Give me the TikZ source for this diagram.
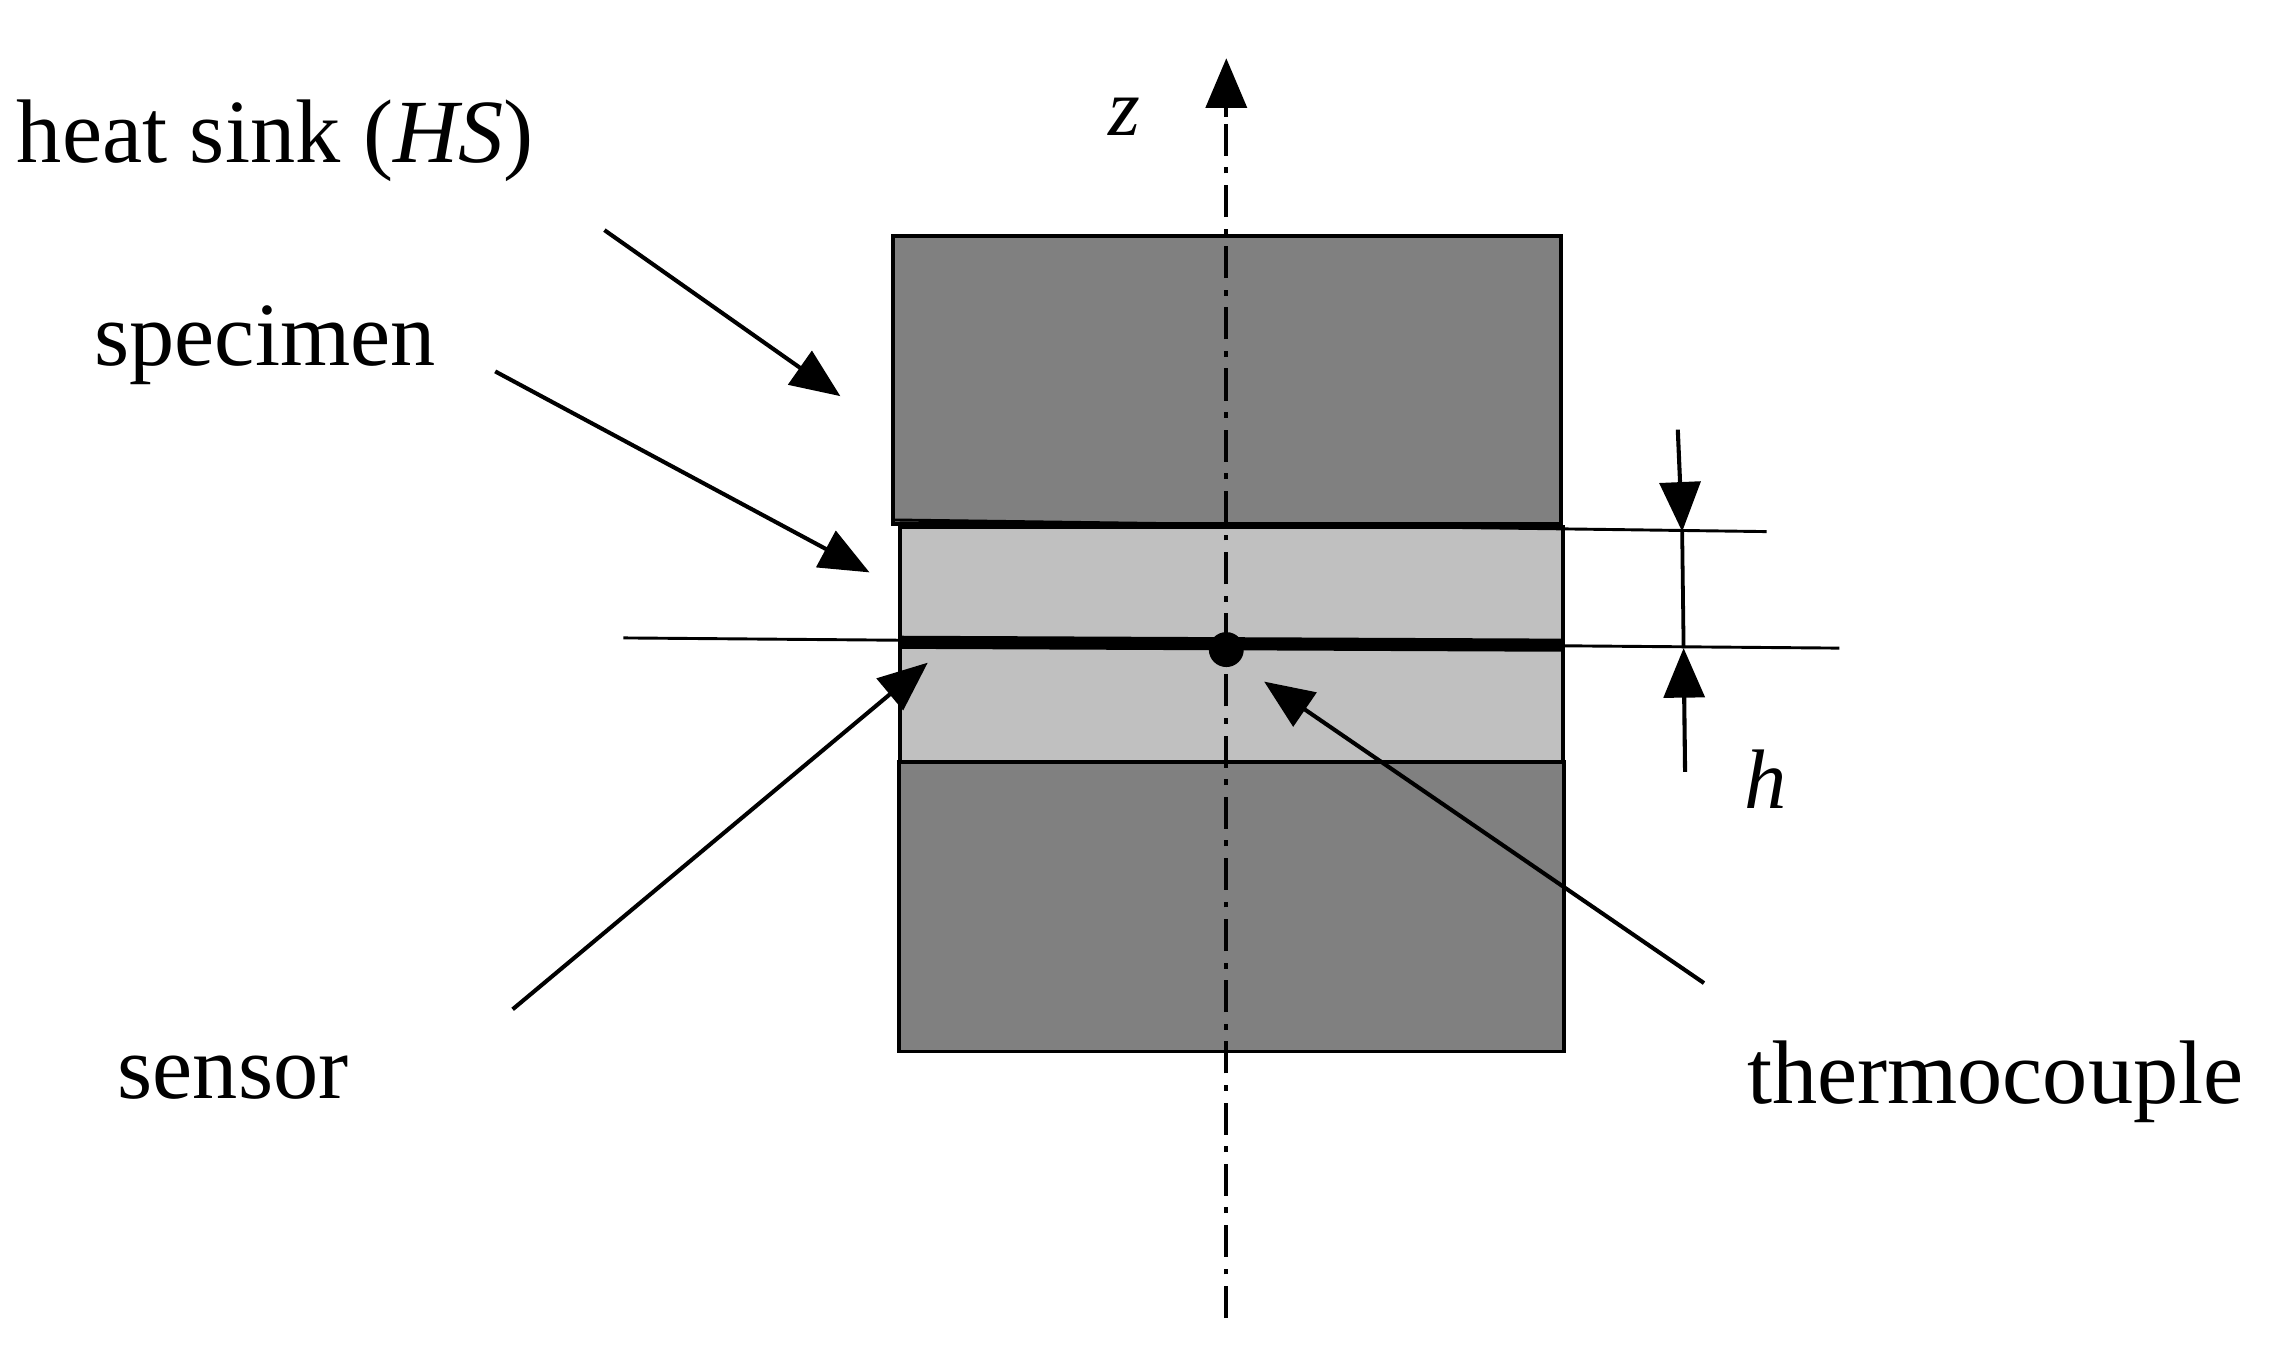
\documentclass[tikz,border=0pt]{standalone}
\usepackage{fontspec}
\setmainfont{Liberation Serif}
\usetikzlibrary{arrows.meta}
\begin{document}
\begin{tikzpicture}[x=1pt,y=-1pt,
  lbl/.style={font=\fontsize{62}{66}\selectfont,inner sep=0},
  arr/.style={line width=2.8pt,-{Triangle[length=34pt,width=28pt]}},
  thin/.style={line width=2pt},
  box/.style={draw,line width=2.6pt}]
\useasboundingbox (0,0) rectangle (1560,924);
\fill[white] (0,0) rectangle (1560,924);
\draw[box,fill={rgb,255:red,128;green,128;blue,128}] (613,162) rectangle (1072,360);
\draw[box,fill={rgb,255:red,192;green,192;blue,192}] (618,362) rectangle (1073,523);
\draw[box,fill={rgb,255:red,128;green,128;blue,128}] (617,523) rectangle (1074,722);
\draw[line width=9pt] (618,441) -- (1073,443);
\draw[thin] (428,438) -- (1263,445);
\draw[thin] (613,357) -- (1213,365);
\coordinate (top) at (842,40);
\coordinate (bot) at (842,905);
\draw[line width=2.6pt,dash pattern=on 22pt off 8pt on 4pt off 8pt] (bot) -- (842,75);
\draw[arr] (842,80) -- (top);
\node[lbl,font=\fontsize{56}{60}\selectfont\itshape] (z) at (772,80) {z};
\fill (842,446) circle (12);
\node (dot) at (842,446) {};
% dimension
\coordinate (d1) at (1152,295);
\coordinate (d2) at (1155,365);
\coordinate (d3) at (1157,530);
\coordinate (d4) at (1156,445);
\draw[line width=2.6pt] (d2) -- (d4);
\draw[arr] (d1) -- (d2);
\draw[arr] (d3) -- (d4);
\node[lbl,font=\fontsize{58}{60}\selectfont\itshape] (h) at (1212,535) {h};
% labels
\node[lbl] (hs) at (189,97) {heat sink (\textit{HS})};
\node[lbl] (sp) at (182,237) {specimen};
\node[lbl] (se) at (160,740) {sensor};
\node[lbl] (tc) at (1370,743) {thermocouple};
\coordinate (a1) at (415,158); \coordinate (b1) at (577,272);
\coordinate (a2) at (340,255); \coordinate (b2) at (597,393);
\coordinate (a3) at (352,693); \coordinate (b3) at (637,455);
\coordinate (a4) at (1170,675); \coordinate (b4) at (868,468);
\draw[arr] (a1) -- (b1);
\draw[arr] (a2) -- (b2);
\draw[arr] (a3) -- (b3);
\draw[arr] (a4) -- (b4);
\end{tikzpicture}
\end{document}
